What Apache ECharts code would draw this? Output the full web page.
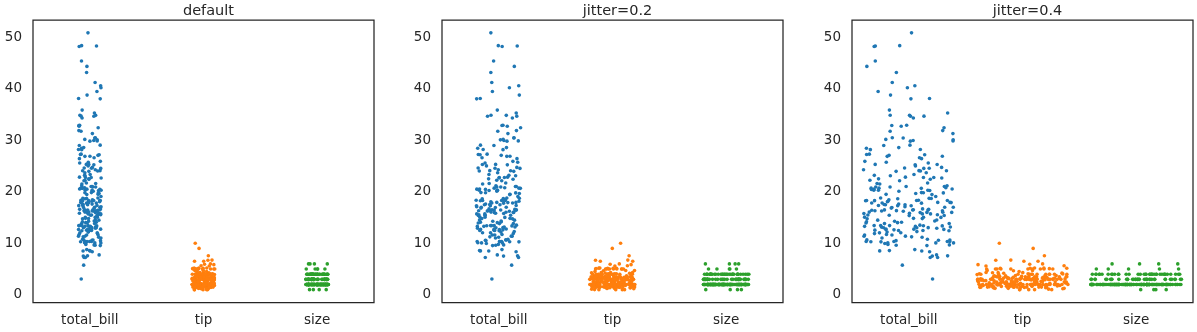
<!DOCTYPE html>
<html>
<head>
<meta charset="utf-8">
<script src="https://cdn.jsdelivr.net/npm/echarts@6/dist/echarts.min.js"></script>
<style>
  html, body { margin: 0; padding: 0; background: #ffffff; }
  #chart { width: 1197px; height: 332px; }
</style>
</head>
<body>
<div id="chart"></div>
<script>
// Restaurant tips dataset (244 rows)
const totalBill = [16.99,10.34,21.01,23.68,24.59,25.29,8.77,26.88,15.04,14.78,10.27,35.26,15.42,18.43,14.83,21.58,10.33,16.29,16.97,20.65,17.92,20.29,15.77,39.42,19.82,17.81,13.37,12.69,21.7,19.65,9.55,18.35,15.06,20.69,17.78,24.06,16.31,16.93,18.69,31.27,16.04,17.46,13.94,9.68,30.4,18.29,22.23,32.4,28.55,18.04,12.54,10.29,34.81,9.94,25.56,19.49,38.01,26.41,11.24,48.27,20.29,13.81,11.02,18.29,17.59,20.08,16.45,3.07,20.23,15.01,12.02,17.07,26.86,25.28,14.73,10.51,17.92,27.2,22.76,17.29,19.44,16.66,10.07,32.68,15.98,34.83,13.03,18.28,24.71,21.16,28.97,22.49,5.75,16.32,22.75,40.17,27.28,12.03,21.01,12.46,11.35,15.38,44.3,22.42,20.92,15.36,20.49,25.21,18.24,14.31,14.0,7.25,38.07,23.95,25.71,17.31,29.93,10.65,12.43,24.08,11.69,13.42,14.26,15.95,12.48,29.8,8.52,14.52,11.38,22.82,19.08,20.27,11.17,12.26,18.26,8.51,10.33,14.15,16.0,13.16,17.47,34.3,41.19,27.05,16.43,8.35,18.64,11.87,9.78,7.51,14.07,13.13,17.26,24.55,19.77,29.85,48.17,25.0,13.39,16.49,21.5,12.66,16.21,13.81,17.51,24.52,20.76,31.71,10.59,10.63,50.81,15.81,7.25,31.85,16.82,32.9,17.89,14.48,9.6,34.63,34.65,23.33,45.35,23.17,40.55,20.69,20.9,30.46,18.15,23.1,15.69,19.81,28.44,15.48,16.58,7.56,10.34,43.11,13.0,13.51,18.71,12.74,13.0,16.4,20.53,16.47,26.59,38.73,24.27,12.76,30.06,25.89,48.33,13.27,28.17,12.9,28.15,11.59,7.74,30.14,12.16,13.42,8.58,15.98,13.42,16.27,10.09,20.45,13.28,22.12,24.01,15.69,11.61,10.77,15.53,10.07,12.6,32.83,35.83,29.03,27.18,22.67,17.82,18.78];
const tip = [1.01,1.66,3.5,3.31,3.61,4.71,2.0,3.12,1.96,3.23,1.71,5.0,1.57,3.0,3.02,3.92,1.67,3.71,3.5,3.35,4.08,2.75,2.23,7.58,3.18,2.34,2.0,2.0,4.3,3.0,1.45,2.5,3.0,2.45,3.27,3.6,2.0,3.07,2.31,5.0,2.24,2.54,3.06,1.32,5.6,3.0,5.0,6.0,2.05,3.0,2.5,2.6,5.2,1.56,4.34,3.51,3.0,1.5,1.76,6.73,3.21,2.0,1.98,3.76,2.64,3.15,2.47,1.0,2.01,2.09,1.97,3.0,3.14,5.0,2.2,1.25,3.08,4.0,3.0,2.71,3.0,3.4,1.83,5.0,2.03,5.17,2.0,4.0,5.85,3.0,3.0,3.5,1.0,4.3,3.25,4.73,4.0,1.5,3.0,1.5,2.5,3.0,2.5,3.48,4.08,1.64,4.06,4.29,3.76,4.0,3.0,1.0,4.0,2.55,4.0,3.5,5.07,1.5,1.8,2.92,2.31,1.68,2.5,2.0,2.52,4.2,1.48,2.0,2.0,2.18,1.5,2.83,1.5,2.0,3.25,1.25,2.0,2.0,2.0,2.75,3.5,6.7,5.0,5.0,2.3,1.5,1.36,1.63,1.73,2.0,2.5,2.0,2.74,2.0,2.0,5.14,5.0,3.75,2.61,2.0,3.5,2.5,2.0,2.0,3.0,3.48,2.24,4.5,1.61,2.0,10.0,3.16,5.15,3.18,4.0,3.11,2.0,2.0,4.0,3.55,3.68,5.65,3.5,6.5,3.0,5.0,3.5,2.0,3.5,4.0,1.5,4.19,2.56,2.02,4.0,1.44,2.0,5.0,2.0,2.0,4.0,2.01,2.0,2.5,4.0,3.23,3.41,3.0,2.03,2.23,2.0,5.16,9.0,2.5,6.5,1.1,3.0,1.5,1.44,3.09,2.2,3.48,1.92,3.0,1.58,2.5,2.0,3.0,2.72,2.88,2.0,3.0,3.39,1.47,3.0,1.25,1.0,1.17,4.67,5.92,2.0,2.0,1.75,3.0];
const partySize = [2,3,3,2,4,4,2,4,2,2,2,4,2,4,2,2,3,3,3,3,2,2,2,4,2,4,2,2,2,2,2,4,2,4,2,3,3,3,3,3,3,2,2,2,4,2,2,4,3,2,2,2,4,2,4,2,4,2,2,4,2,2,2,4,3,3,2,1,2,2,2,3,2,2,2,2,2,4,2,2,2,2,1,2,2,4,2,2,2,2,2,2,2,2,2,4,2,2,2,2,2,2,3,2,2,2,2,2,2,2,2,1,3,2,3,2,4,2,2,4,2,2,2,2,2,6,2,2,2,3,2,2,2,2,2,2,2,2,2,2,2,6,5,6,2,2,3,2,2,2,2,2,3,4,4,5,6,4,2,4,4,2,3,2,2,3,2,4,2,2,3,2,2,2,2,2,2,2,2,2,4,2,3,4,2,5,3,5,3,3,2,2,2,2,2,2,2,4,2,2,3,2,2,2,4,3,3,4,2,2,3,4,4,2,3,2,5,2,2,4,2,2,1,3,2,2,2,4,2,2,4,3,2,2,2,2,2,2,3,3,2,2,2,2];

const categories = ['total_bill', 'tip', 'size'];
const columns = [totalBill, tip, partySize];
const panelTitles = ['default', 'jitter=0.2', 'jitter=0.4'];
const jitterWidths = [0.1, 0.2, 0.4];
const yTicks = [0, 10, 20, 30, 40, 50];

const colors = ['#1f77b4', '#ff7f0e', '#2ca02c'];
const textColor = '#262626';
const fontFamily = 'DejaVu Sans';

// Deterministic hash in [0, 1) used to spread points horizontally
function hash01(i, seed) {
  let h = (i + 1) * 374761393 + seed * 668265263;
  h = (h ^ (h >>> 13)) >>> 0;
  h = Math.imul(h, 1274126177) >>> 0;
  h = (h ^ (h >>> 16)) >>> 0;
  return h / 4294967296;
}

// y limits with 5% padding around the full data range
const allVals = [].concat(totalBill, tip, partySize);
const dMin = Math.min.apply(null, allVals);
const dMax = Math.max.apply(null, allVals);
const pad = (dMax - dMin) * 0.05;
const yMin = dMin - pad;
const yMax = dMax + pad;

const gridLefts = [33, 442, 852];
const gridWidth = 341;

const grids = [], xAxes = [], yAxes = [], series = [], titles = [];

gridLefts.forEach((left, p) => {
  grids.push({
    left: left, top: 20, width: gridWidth, height: 282.5,
    show: true, borderColor: '#262626', borderWidth: 1.25,
    backgroundColor: 'transparent'
  });
  titles.push({
    text: panelTitles[p],
    left: left + gridWidth / 2,
    textAlign: 'center',
    top: 3,
    padding: [0, 5, 0, 5],
    textStyle: { fontFamily: fontFamily, fontSize: 14.5, fontWeight: 'normal', color: textColor, lineHeight: 16 }
  });
  xAxes.push({
    type: 'value', gridIndex: p, min: -0.5, max: 2.5,
    axisLine: { show: false }, axisTick: { show: false }, splitLine: { show: false },
    axisLabel: {
      customValues: [0, 1, 2],
      formatter: v => categories[Math.round(v)],
      margin: 11, fontFamily: fontFamily, fontSize: 13.5, color: textColor
    }
  });
  yAxes.push({
    type: 'value', gridIndex: p, min: yMin, max: yMax,
    axisLine: { show: false }, axisTick: { show: false }, splitLine: { show: false },
    axisLabel: {
      customValues: yTicks,
      margin: 11, fontFamily: fontFamily, fontSize: 13.5, color: textColor
    }
  });
  columns.forEach((vals, c) => {
    const w = jitterWidths[p];
    series.push({
      type: 'scatter',
      xAxisIndex: p, yAxisIndex: p,
      symbolSize: 3.6,
      itemStyle: { color: colors[c], opacity: 1 },
      silent: true,
      animation: false,
      data: vals.map((v, i) => [c + (hash01(i, p * 7 + c * 3 + 11) * 2 - 1) * w, v])
    });
  });
});

const chart = echarts.init(document.getElementById('chart'), null, { renderer: 'canvas' });
chart.setOption({
  backgroundColor: '#ffffff',
  animation: false,
  title: titles,
  grid: grids,
  xAxis: xAxes,
  yAxis: yAxes,
  series: series
});
</script>
</body>
</html>
